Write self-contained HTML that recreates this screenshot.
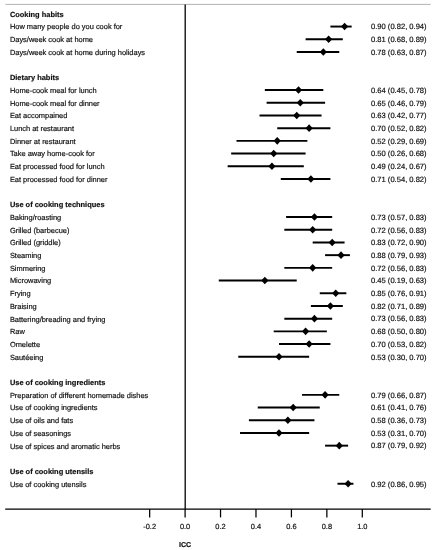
<!DOCTYPE html>
<html><head><meta charset="utf-8"><title>ICC forest plot</title>
<style>
html,body{margin:0;padding:0;background:#fff;}
svg{display:block;}
text{font-family:"Liberation Sans",Arial,sans-serif;fill:#111;stroke:#111;stroke-width:0.18px;text-rendering:geometricPrecision;}
.b{font-weight:bold;}
</style></head><body>
<svg width="437" height="550" viewBox="0 0 437 550">
<rect width="437" height="550" fill="#fff"/>
<line x1="5.5" y1="4.4" x2="430.7" y2="4.4" stroke="#a8a8a8" stroke-width="0.9"/>
<line x1="185.2" y1="4.4" x2="185.2" y2="509.1" stroke="#000" stroke-width="1.3"/>
<line x1="5.2" y1="509.15" x2="430.7" y2="509.15" stroke="#000" stroke-width="1.35"/>
<line x1="149.66" y1="509.1" x2="149.66" y2="517.4" stroke="#000" stroke-width="1.25"/>
<text x="149.66" y="529.2" font-size="7.45" text-anchor="middle">-0.2</text>
<line x1="185.10" y1="509.1" x2="185.10" y2="517.4" stroke="#000" stroke-width="1.25"/>
<text x="185.10" y="529.2" font-size="7.45" text-anchor="middle">0.0</text>
<line x1="220.54" y1="509.1" x2="220.54" y2="517.4" stroke="#000" stroke-width="1.25"/>
<text x="220.54" y="529.2" font-size="7.45" text-anchor="middle">0.2</text>
<line x1="255.98" y1="509.1" x2="255.98" y2="517.4" stroke="#000" stroke-width="1.25"/>
<text x="255.98" y="529.2" font-size="7.45" text-anchor="middle">0.4</text>
<line x1="291.42" y1="509.1" x2="291.42" y2="517.4" stroke="#000" stroke-width="1.25"/>
<text x="291.42" y="529.2" font-size="7.45" text-anchor="middle">0.6</text>
<line x1="326.86" y1="509.1" x2="326.86" y2="517.4" stroke="#000" stroke-width="1.25"/>
<text x="326.86" y="529.2" font-size="7.45" text-anchor="middle">0.8</text>
<line x1="362.30" y1="509.1" x2="362.30" y2="517.4" stroke="#000" stroke-width="1.25"/>
<text x="362.30" y="529.2" font-size="7.45" text-anchor="middle">1.0</text>
<text x="185.1" y="547.2" font-size="7.1" text-anchor="middle" class="b">ICC</text>
<text x="9.9" y="16.70" font-size="7.45" class="b">Cooking habits</text>
<text x="9.9" y="29.40" font-size="7.45">How many people do you cook for</text>
<line x1="330.40" y1="26.55" x2="351.67" y2="26.55" stroke="#000" stroke-width="1.95"/>
<polygon points="340.98,26.55 344.58,22.75 348.18,26.55 344.58,30.35" fill="#000"/>
<text x="371.0" y="29.30" font-size="7.58">0.90 (0.82, 0.94)</text>
<text x="9.9" y="42.10" font-size="7.45">Days/week cook at home</text>
<line x1="305.60" y1="39.25" x2="342.81" y2="39.25" stroke="#000" stroke-width="1.95"/>
<polygon points="325.03,39.25 328.63,35.45 332.23,39.25 328.63,43.05" fill="#000"/>
<text x="371.0" y="42.00" font-size="7.58">0.81 (0.68, 0.89)</text>
<text x="9.9" y="54.80" font-size="7.45">Days/week cook at home during holidays</text>
<line x1="296.74" y1="51.95" x2="339.26" y2="51.95" stroke="#000" stroke-width="1.95"/>
<polygon points="319.72,51.95 323.32,48.15 326.92,51.95 323.32,55.75" fill="#000"/>
<text x="371.0" y="54.70" font-size="7.58">0.78 (0.63, 0.87)</text>
<text x="9.9" y="80.20" font-size="7.45" class="b">Dietary habits</text>
<text x="9.9" y="92.90" font-size="7.45">Home-cook meal for lunch</text>
<line x1="264.84" y1="90.05" x2="323.32" y2="90.05" stroke="#000" stroke-width="1.95"/>
<polygon points="294.91,90.05 298.51,86.25 302.11,90.05 298.51,93.85" fill="#000"/>
<text x="371.0" y="92.80" font-size="7.58">0.64 (0.45, 0.78)</text>
<text x="9.9" y="105.60" font-size="7.45">Home-cook meal for dinner</text>
<line x1="266.61" y1="102.75" x2="325.09" y2="102.75" stroke="#000" stroke-width="1.95"/>
<polygon points="296.68,102.75 300.28,98.95 303.88,102.75 300.28,106.55" fill="#000"/>
<text x="371.0" y="105.50" font-size="7.58">0.65 (0.46, 0.79)</text>
<text x="9.9" y="118.30" font-size="7.45">Eat accompained</text>
<line x1="259.52" y1="115.45" x2="321.54" y2="115.45" stroke="#000" stroke-width="1.95"/>
<polygon points="293.14,115.45 296.74,111.65 300.34,115.45 296.74,119.25" fill="#000"/>
<text x="371.0" y="118.20" font-size="7.58">0.63 (0.42, 0.77)</text>
<text x="9.9" y="131.00" font-size="7.45">Lunch at restaurant</text>
<line x1="277.24" y1="128.15" x2="330.40" y2="128.15" stroke="#000" stroke-width="1.95"/>
<polygon points="305.54,128.15 309.14,124.35 312.74,128.15 309.14,131.95" fill="#000"/>
<text x="371.0" y="130.90" font-size="7.58">0.70 (0.52, 0.82)</text>
<text x="9.9" y="143.70" font-size="7.45">Dinner at restaurant</text>
<line x1="236.49" y1="140.85" x2="307.37" y2="140.85" stroke="#000" stroke-width="1.95"/>
<polygon points="273.64,140.85 277.24,137.05 280.84,140.85 277.24,144.65" fill="#000"/>
<text x="371.0" y="143.60" font-size="7.58">0.52 (0.29, 0.69)</text>
<text x="9.9" y="156.40" font-size="7.45">Take away home-cook for</text>
<line x1="231.17" y1="153.55" x2="305.60" y2="153.55" stroke="#000" stroke-width="1.95"/>
<polygon points="270.10,153.55 273.70,149.75 277.30,153.55 273.70,157.35" fill="#000"/>
<text x="371.0" y="156.30" font-size="7.58">0.50 (0.26, 0.68)</text>
<text x="9.9" y="169.10" font-size="7.45">Eat processed food for lunch</text>
<line x1="227.63" y1="166.25" x2="303.82" y2="166.25" stroke="#000" stroke-width="1.95"/>
<polygon points="268.33,166.25 271.93,162.45 275.53,166.25 271.93,170.05" fill="#000"/>
<text x="371.0" y="169.00" font-size="7.58">0.49 (0.24, 0.67)</text>
<text x="9.9" y="181.80" font-size="7.45">Eat processed food for dinner</text>
<line x1="280.79" y1="178.95" x2="330.40" y2="178.95" stroke="#000" stroke-width="1.95"/>
<polygon points="307.31,178.95 310.91,175.15 314.51,178.95 310.91,182.75" fill="#000"/>
<text x="371.0" y="181.70" font-size="7.58">0.71 (0.54, 0.82)</text>
<text x="9.9" y="207.20" font-size="7.45" class="b">Use of cooking techniques</text>
<text x="9.9" y="219.90" font-size="7.45">Baking/roasting</text>
<line x1="286.10" y1="217.05" x2="332.18" y2="217.05" stroke="#000" stroke-width="1.95"/>
<polygon points="310.86,217.05 314.46,213.25 318.06,217.05 314.46,220.85" fill="#000"/>
<text x="371.0" y="219.80" font-size="7.58">0.73 (0.57, 0.83)</text>
<text x="9.9" y="232.60" font-size="7.45">Grilled (barbecue)</text>
<line x1="284.33" y1="229.75" x2="332.18" y2="229.75" stroke="#000" stroke-width="1.95"/>
<polygon points="309.08,229.75 312.68,225.95 316.28,229.75 312.68,233.55" fill="#000"/>
<text x="371.0" y="232.50" font-size="7.58">0.72 (0.56, 0.83)</text>
<text x="9.9" y="245.30" font-size="7.45">Grilled (griddle)</text>
<line x1="312.68" y1="242.45" x2="344.58" y2="242.45" stroke="#000" stroke-width="1.95"/>
<polygon points="328.58,242.45 332.18,238.65 335.78,242.45 332.18,246.25" fill="#000"/>
<text x="371.0" y="245.20" font-size="7.58">0.83 (0.72, 0.90)</text>
<text x="9.9" y="258.00" font-size="7.45">Steaming</text>
<line x1="325.09" y1="255.15" x2="349.90" y2="255.15" stroke="#000" stroke-width="1.95"/>
<polygon points="337.44,255.15 341.04,251.35 344.64,255.15 341.04,258.95" fill="#000"/>
<text x="371.0" y="257.90" font-size="7.58">0.88 (0.79, 0.93)</text>
<text x="9.9" y="270.70" font-size="7.45">Simmering</text>
<line x1="284.33" y1="267.85" x2="332.18" y2="267.85" stroke="#000" stroke-width="1.95"/>
<polygon points="309.08,267.85 312.68,264.05 316.28,267.85 312.68,271.65" fill="#000"/>
<text x="371.0" y="270.60" font-size="7.58">0.72 (0.56, 0.83)</text>
<text x="9.9" y="283.40" font-size="7.45">Microwaving</text>
<line x1="218.77" y1="280.55" x2="296.74" y2="280.55" stroke="#000" stroke-width="1.95"/>
<polygon points="261.24,280.55 264.84,276.75 268.44,280.55 264.84,284.35" fill="#000"/>
<text x="371.0" y="283.30" font-size="7.58">0.45 (0.19, 0.63)</text>
<text x="9.9" y="296.10" font-size="7.45">Frying</text>
<line x1="319.77" y1="293.25" x2="346.35" y2="293.25" stroke="#000" stroke-width="1.95"/>
<polygon points="332.12,293.25 335.72,289.45 339.32,293.25 335.72,297.05" fill="#000"/>
<text x="371.0" y="296.00" font-size="7.58">0.85 (0.76, 0.91)</text>
<text x="9.9" y="308.80" font-size="7.45">Braising</text>
<line x1="310.91" y1="305.95" x2="342.81" y2="305.95" stroke="#000" stroke-width="1.95"/>
<polygon points="326.80,305.95 330.40,302.15 334.00,305.95 330.40,309.75" fill="#000"/>
<text x="371.0" y="308.70" font-size="7.58">0.82 (0.71, 0.89)</text>
<text x="9.9" y="321.50" font-size="7.45">Battering/breading and frying</text>
<line x1="284.33" y1="318.65" x2="332.18" y2="318.65" stroke="#000" stroke-width="1.95"/>
<polygon points="310.86,318.65 314.46,314.85 318.06,318.65 314.46,322.45" fill="#000"/>
<text x="371.0" y="321.40" font-size="7.58">0.73 (0.56, 0.83)</text>
<text x="9.9" y="334.20" font-size="7.45">Raw</text>
<line x1="273.70" y1="331.35" x2="326.86" y2="331.35" stroke="#000" stroke-width="1.95"/>
<polygon points="302.00,331.35 305.60,327.55 309.20,331.35 305.60,335.15" fill="#000"/>
<text x="371.0" y="334.10" font-size="7.58">0.68 (0.50, 0.80)</text>
<text x="9.9" y="346.90" font-size="7.45">Omelette</text>
<line x1="279.02" y1="344.05" x2="330.40" y2="344.05" stroke="#000" stroke-width="1.95"/>
<polygon points="305.54,344.05 309.14,340.25 312.74,344.05 309.14,347.85" fill="#000"/>
<text x="371.0" y="346.80" font-size="7.58">0.70 (0.53, 0.82)</text>
<text x="9.9" y="359.60" font-size="7.45">Sautéeing</text>
<line x1="238.26" y1="356.75" x2="309.14" y2="356.75" stroke="#000" stroke-width="1.95"/>
<polygon points="275.42,356.75 279.02,352.95 282.62,356.75 279.02,360.55" fill="#000"/>
<text x="371.0" y="359.50" font-size="7.58">0.53 (0.30, 0.70)</text>
<text x="9.9" y="385.00" font-size="7.45" class="b">Use of cooking ingredients</text>
<text x="9.9" y="397.70" font-size="7.45">Preparation of different homemade dishes</text>
<line x1="302.05" y1="394.85" x2="339.26" y2="394.85" stroke="#000" stroke-width="1.95"/>
<polygon points="321.49,394.85 325.09,391.05 328.69,394.85 325.09,398.65" fill="#000"/>
<text x="371.0" y="397.60" font-size="7.58">0.79 (0.66, 0.87)</text>
<text x="9.9" y="410.40" font-size="7.45">Use of cooking ingredients</text>
<line x1="257.75" y1="407.55" x2="319.77" y2="407.55" stroke="#000" stroke-width="1.95"/>
<polygon points="289.59,407.55 293.19,403.75 296.79,407.55 293.19,411.35" fill="#000"/>
<text x="371.0" y="410.30" font-size="7.58">0.61 (0.41, 0.76)</text>
<text x="9.9" y="423.10" font-size="7.45">Use of oils and fats</text>
<line x1="248.89" y1="420.25" x2="314.46" y2="420.25" stroke="#000" stroke-width="1.95"/>
<polygon points="284.28,420.25 287.88,416.45 291.48,420.25 287.88,424.05" fill="#000"/>
<text x="371.0" y="423.00" font-size="7.58">0.58 (0.36, 0.73)</text>
<text x="9.9" y="435.80" font-size="7.45">Use of seasonings</text>
<line x1="240.03" y1="432.95" x2="309.14" y2="432.95" stroke="#000" stroke-width="1.95"/>
<polygon points="275.42,432.95 279.02,429.15 282.62,432.95 279.02,436.75" fill="#000"/>
<text x="371.0" y="435.70" font-size="7.58">0.53 (0.31, 0.70)</text>
<text x="9.9" y="448.50" font-size="7.45">Use of spices and aromatic herbs</text>
<line x1="325.09" y1="445.65" x2="348.12" y2="445.65" stroke="#000" stroke-width="1.95"/>
<polygon points="335.66,445.65 339.26,441.85 342.86,445.65 339.26,449.45" fill="#000"/>
<text x="371.0" y="448.40" font-size="7.58">0.87 (0.79, 0.92)</text>
<text x="9.9" y="473.90" font-size="7.45" class="b">Use of cooking utensils</text>
<text x="9.9" y="486.60" font-size="7.45">Use of cooking utensils</text>
<line x1="337.49" y1="483.75" x2="353.44" y2="483.75" stroke="#000" stroke-width="1.95"/>
<polygon points="344.52,483.75 348.12,479.95 351.72,483.75 348.12,487.55" fill="#000"/>
<text x="371.0" y="486.50" font-size="7.58">0.92 (0.86, 0.95)</text>
</svg>
</body></html>
